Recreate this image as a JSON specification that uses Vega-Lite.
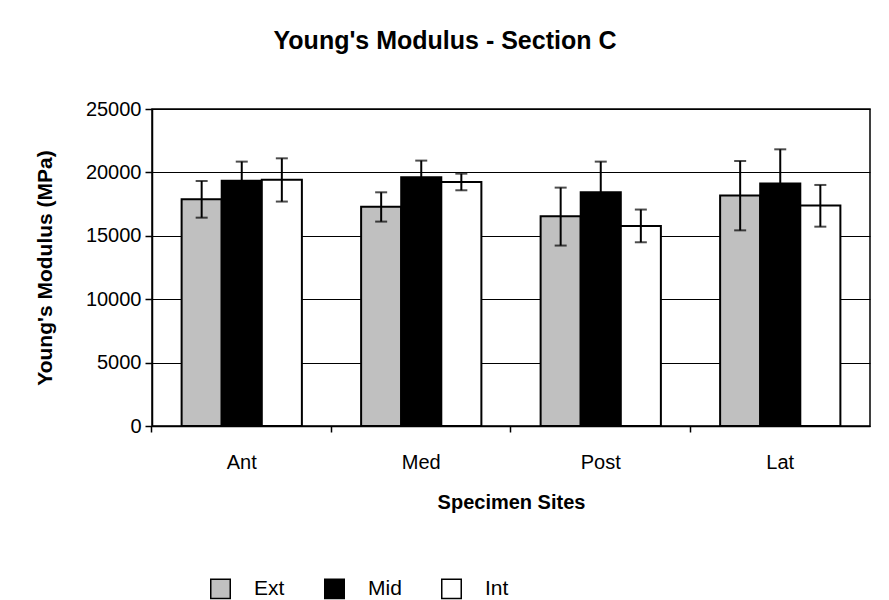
{
  "$schema": "https://vega.github.io/schema/vega-lite/v6.json",
  "width": 718,
  "height": 317,
  "autosize": "none",
  "padding": {"left": 152, "top": 109, "right": 19, "bottom": 174},
  "background": "white",
  "title": {
    "text": "Young's Modulus - Section C",
    "font": "Liberation Sans",
    "fontSize": 25,
    "fontWeight": "bold",
    "color": "black",
    "anchor": "middle",
    "dx": -66,
    "offset": 45
  },
  "data": {
    "values": [
      {"site": "Ant", "layer": "Ext", "mean": 17880, "lo": 16430, "hi": 19320},
      {"site": "Ant", "layer": "Mid", "mean": 19350, "lo": 17850, "hi": 20850},
      {"site": "Ant", "layer": "Int", "mean": 19430, "lo": 17700, "hi": 21110},
      {"site": "Med", "layer": "Ext", "mean": 17300, "lo": 16120, "hi": 18430},
      {"site": "Med", "layer": "Mid", "mean": 19610, "lo": 18290, "hi": 20930},
      {"site": "Med", "layer": "Int", "mean": 19240, "lo": 18590, "hi": 19900},
      {"site": "Post", "layer": "Ext", "mean": 16540, "lo": 14230, "hi": 18800},
      {"site": "Post", "layer": "Mid", "mean": 18430, "lo": 16010, "hi": 20850},
      {"site": "Post", "layer": "Int", "mean": 15770, "lo": 14490, "hi": 17070},
      {"site": "Lat", "layer": "Ext", "mean": 18170, "lo": 15430, "hi": 20900},
      {"site": "Lat", "layer": "Mid", "mean": 19120, "lo": 16420, "hi": 21820},
      {"site": "Lat", "layer": "Int", "mean": 17380, "lo": 15720, "hi": 19010}
    ]
  },
  "encoding": {
    "x": {
      "field": "site",
      "type": "nominal",
      "sort": ["Ant", "Med", "Post", "Lat"],
      "title": "Specimen Sites",
      "scale": {"paddingInner": 0.33, "paddingOuter": 0.165},
      "axis": {
        "labelAngle": 0,
        "labelPadding": 20,
        "labelFontSize": 20,
        "titleFontSize": 20,
        "titlePadding": 20,
        "bandPosition": -0.2475,
        "tickSize": 6
      }
    },
    "xOffset": {
      "field": "layer",
      "type": "nominal",
      "sort": ["Ext", "Mid", "Int"],
      "scale": {"paddingInner": 0, "paddingOuter": 0}
    }
  },
  "layer": [
    {
      "mark": {"type": "bar", "stroke": "black", "strokeWidth": 2},
      "encoding": {
        "y": {
          "field": "mean",
          "type": "quantitative",
          "title": "Young's Modulus (MPa)",
          "scale": {"domain": [0, 25000], "nice": false},
          "axis": {
            "values": [0, 5000, 10000, 15000, 20000, 25000],
            "format": "d",
            "labelFontSize": 20,
            "titleFontSize": 21,
            "titlePadding": 30,
            "tickSize": 7,
            "labelPadding": 4,
            "grid": true
          }
        },
        "color": {
          "field": "layer",
          "type": "nominal",
          "sort": ["Ext", "Mid", "Int"],
          "scale": {"domain": ["Ext", "Mid", "Int"], "range": ["#c0c0c0", "#000000", "#ffffff"]},
          "legend": {
            "title": null,
            "orient": "none",
            "direction": "horizontal",
            "legendX": 58,
            "legendY": 469,
            "symbolType": "square",
            "symbolSize": 380,
            "symbolStrokeColor": "black",
            "symbolStrokeWidth": 1.5,
            "labelFontSize": 21,
            "labelOffset": 23,
            "columnPadding": 36
          }
        }
      }
    },
    {
      "mark": {"type": "rule", "color": "black", "strokeWidth": 2},
      "encoding": {
        "y": {"field": "lo", "type": "quantitative"},
        "y2": {"field": "hi"}
      }
    },
    {
      "mark": {"type": "tick", "color": "black", "thickness": 2, "size": 12},
      "encoding": {"y": {"field": "lo", "type": "quantitative"}}
    },
    {
      "mark": {"type": "tick", "color": "black", "thickness": 2, "size": 12},
      "encoding": {"y": {"field": "hi", "type": "quantitative"}}
    }
  ],
  "config": {
    "font": "Liberation Sans",
    "view": {"stroke": "black", "strokeWidth": 1.5},
    "axis": {
      "domainColor": "black",
      "domainWidth": 1.5,
      "tickColor": "black",
      "tickWidth": 1.5,
      "gridColor": "black",
      "gridWidth": 1.2,
      "labelColor": "black",
      "titleColor": "black",
      "labelFont": "Liberation Sans",
      "titleFont": "Liberation Sans",
      "titleFontWeight": "bold",
      "labelFontWeight": "normal"
    },
    "legend": {"labelFont": "Liberation Sans", "labelColor": "black"}
  }
}
